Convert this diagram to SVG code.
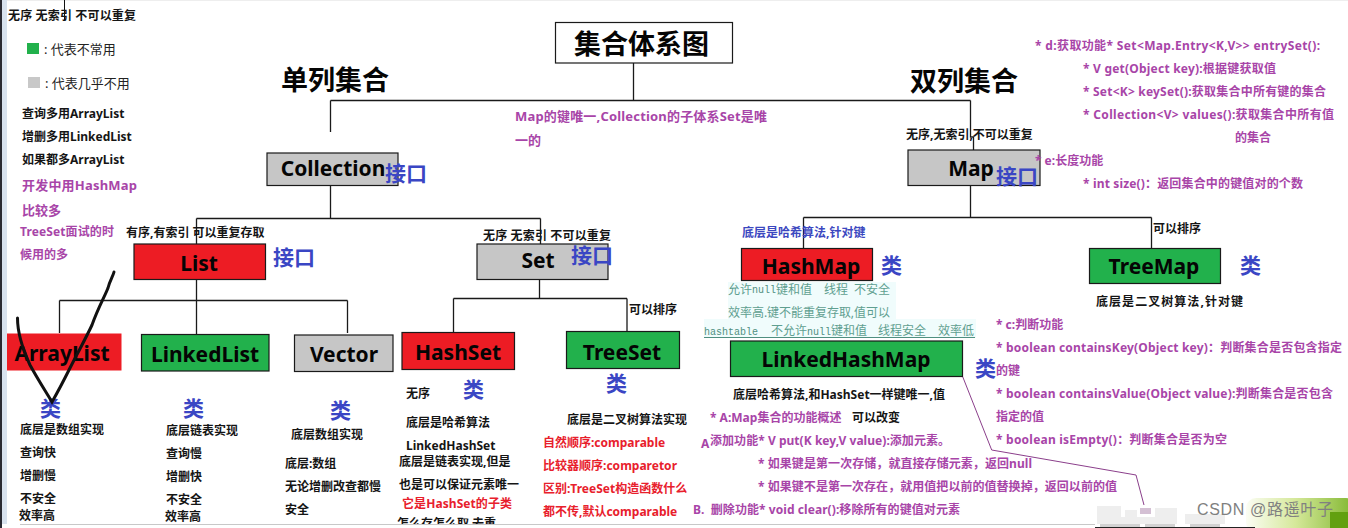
<svg xmlns="http://www.w3.org/2000/svg" width="1348" height="528" viewBox="0 0 1348 528">
<style>
text{font-family:"Noto Sans","Noto Sans CJK SC",sans-serif;font-weight:700;white-space:pre}
.k{font-size:12px;fill:#151515}
.m{font-size:13px;fill:#a845a8}
.r{font-size:12px;fill:#e8202c}
.p{font-size:12px;fill:#a845a8}
.t{font-size:12px;fill:#5f9f90;font-weight:400}
.tm{font-size:10px;fill:#4f8f80;font-weight:400;font-family:"Liberation Mono",monospace}
.b{font-size:12px;fill:#3c48c0}
.h{font-size:27px;fill:#050505}
.n{font-size:21px;fill:#050505;text-anchor:middle}
.c{font-size:21px;fill:#3a46c4}
.box{stroke:#1a1a1a;stroke-width:1.2}
.red{fill:#ed1c24}.grn{fill:#22b14c}.gry{fill:#c6c6c6}
.ln{fill:none;stroke:#1a1a1a;stroke-width:1.3}
</style>
<defs>
<linearGradient id="wm" x1="0" x2="1" y1="0" y2="0"><stop offset="0" stop-color="#fbfdf4"/><stop offset="0.45" stop-color="#d5e89a"/><stop offset="1" stop-color="#7eb52c"/></linearGradient>
</defs>
<rect width="1348" height="528" fill="#fff"/>
<rect x="0" y="0" width="1348" height="1" fill="#eeeeee"/>
<rect x="2" y="0" width="5" height="524" fill="#d8e2ee"/>
<rect x="0" y="0" width="2" height="528" fill="#2a2a32"/>
<rect x="728" y="282" width="168" height="37" fill="#f0fcfc"/>
<rect x="704" y="319" width="272" height="19" fill="#f0fcfc"/>
<g id="connectors">
<path class="ln" d="M633.5 63V100.5M330.5 100.5H970.5M330.5 100.5V132M970.5 100.5V137H973.5V150M330.5 185V218.5M196.5 218.5H540.5M196.5 218.5V244M540.5 218.5V244M196.5 280V300.5M59.5 300.5H347.5M59.5 300.5V333M196.5 300.5V334M347.5 300.5V333M539.5 280V298.5M453.5 298.5H627M453.5 298.5V332M627 298.5V331M970.5 185V217.5M803.5 217.5H1151.5M803.5 217.5V248M1151.5 217.5V248"/>
<path d="M64.500 0V21" fill="none" stroke="#111" stroke-width="1"/>
<path d="M962.700 376.700L991.700 450L1136 475L1144 505" fill="none" stroke="#8b3f8b" stroke-width="1"/>
</g>
<g id="legend">
<rect x="27" y="43" width="12" height="11" fill="#22b14c"/>
<text x="44" y="54" style="font-size:13px;font-weight:400;fill:#222">: 代表不常用</text>
<rect x="28" y="77" width="12" height="11" fill="#c8c8c8"/>
<text x="45" y="88" style="font-size:13px;font-weight:400;fill:#222">: 代表几乎不用</text>
<text class="k" x="8" y="20" textLength="128">无序 无索引 不可以重复</text>
</g>
<g id="notes-left">
<text class="k" x="22" y="118">查询多用ArrayList</text>
<text class="k" x="22" y="141">增删多用LinkedList</text>
<text class="k" x="22" y="164">如果都多ArrayList</text>
<text class="m" x="22" y="190" textLength="115">开发中用HashMap</text>
<text class="m" x="22" y="215">比较多</text>
<text class="p" x="20" y="236" textLength="94">TreeSet面试的时</text>
<text class="p" x="20" y="259">候用的多</text>
</g>
<g id="title"><rect class="box" x="555.500" y="22.500" width="177" height="40.500" fill="#fff"/><text class="h" x="574" y="54">集合体系图</text></g>
<text class="h" x="281" y="90">单列集合</text>
<text class="h" x="910" y="91">双列集合</text>
<text class="m" x="515" y="121" textLength="252">Map的键唯一,Collection的子体系Set是唯</text>
<text class="m" x="515" y="145">一的</text>
<g id="collection"><rect class="box gry" x="267" y="153" width="131" height="32.500"/><text class="n" x="333" y="176">Collection</text><text class="c" x="385" y="181">接口</text></g>
<g id="map"><rect class="box gry" x="908" y="150" width="132" height="35.500"/><text class="n" x="971" y="176">Map</text><text class="c" x="996" y="184">接口</text></g>
<text class="k" x="906" y="139">无序,无索引,不可以重复</text>
<g id="list"><rect class="box red" x="134" y="244" width="131.500" height="35.500"/><text class="n" x="199" y="271">List</text><text class="c" x="273" y="265">接口</text></g>
<text class="k" x="126" y="237">有序,有索引 可以重复存取</text>
<g id="set"><rect class="box gry" x="477" y="244" width="131" height="35.500"/><text class="n" x="538" y="268">Set</text><text class="c" x="571" y="263">接口</text></g>
<text class="k" x="483" y="240" textLength="128">无序 无索引 不可以重复</text>
<g id="arraylist"><rect class="red" x="7" y="333.500" width="114.500" height="37"/><text class="n" x="62" y="361">ArrayList</text><text class="c" x="40" y="416">类</text></g>
<path d="M17.500 318C17.500 335 24 352 30 365C37 378 46 392 52 402C60 388 66 376 70 368C78 352 86 338 92 325C98 308 104 298 108 288C110 280 113 276 114 272" fill="none" stroke="#111" stroke-width="3" stroke-linecap="round"/>
<g id="linkedlist"><rect class="box grn" x="141.500" y="334.500" width="127.500" height="36.500"/><text class="n" x="205" y="362">LinkedList</text><text class="c" x="183" y="416">类</text></g>
<g id="vector"><rect class="box gry" x="294.500" y="335" width="98.500" height="36.500"/><text class="n" x="344" y="362">Vector</text><text class="c" x="330" y="418">类</text></g>
<g id="hashset"><rect class="box red" x="402" y="332.500" width="112.500" height="37"/><text class="n" x="458" y="360">HashSet</text><text class="c" x="463" y="397">类</text></g>
<g id="treeset"><rect class="box grn" x="566.500" y="331.500" width="113" height="37"/><text class="n" x="622" y="360">TreeSet</text><text class="c" x="606" y="391">类</text></g>
<g id="hashmap"><rect class="box red" x="741.500" y="248.500" width="131" height="32"/><text class="n" x="811" y="274">HashMap</text><text class="c" x="881" y="273">类</text></g>
<g id="treemap"><rect class="box grn" x="1089.500" y="248.500" width="131" height="35"/><text class="n" x="1154" y="274">TreeMap</text><text class="c" x="1240" y="273">类</text></g>
<g id="linkedhashmap"><rect class="box grn" x="730.500" y="341" width="232" height="35.500"/><text class="n" x="846" y="367">LinkedHashMap</text><text class="c" x="975" y="376">类</text></g>
<g id="arraylist-notes">
<text class="k" x="20" y="434" textLength="84">底层是数组实现</text><text class="k" x="20" y="457">查询快</text><text class="k" x="20" y="480">增删慢</text><text class="k" x="20" y="503">不安全</text><text class="k" x="19" y="520">效率高</text>
</g>
<g id="linkedlist-notes">
<text class="k" x="166" y="435">底层链表实现</text><text class="k" x="166" y="458">查询慢</text><text class="k" x="166" y="481">增删快</text><text class="k" x="166" y="504">不安全</text><text class="k" x="165" y="521">效率高</text>
</g>
<g id="vector-notes">
<text class="k" x="291" y="439">底层数组实现</text><text class="k" x="285" y="468">底层:数组</text><text class="k" x="285" y="491">无论增删改查都慢</text><text class="k" x="285" y="514">安全</text>
</g>
<g id="hashset-notes">
<text class="k" x="406" y="398">无序</text><text class="k" x="406" y="427">底层是哈希算法</text><text class="k" x="406" y="450">LinkedHashSet</text><text class="k" x="399" y="466">底层是链表实现,但是</text><text class="k" x="399" y="489">也是可以保证元素唯一</text><text class="r" x="402" y="508" textLength="110">它是HashSet的子类</text>
<text class="k" x="397" y="528">怎么存怎么取 去重</text>
</g>
<g id="treeset-notes">
<text class="k" x="567" y="424">底层是二叉树算法实现</text><text class="r" x="543" y="447">自然顺序:comparable</text><text class="r" x="543" y="470" textLength="134">比较器顺序:comparetor</text><text class="r" x="543" y="493">区别:TreeSet构造函数什么</text><text class="r" x="543" y="516">都不传,默认comparable</text>
</g>
<text class="b" x="742" y="237">底层是哈希算法,针对键</text>
<text class="k" x="1153" y="233">可以排序</text>
<text class="k" x="629" y="314">可以排序</text>
<text class="k" x="1096" y="306" textLength="147">底层是二叉树算法,针对键</text>
<g id="hashmap-notes">
<text class="t" x="728" y="294">允许</text><text class="tm" x="752" y="293">null</text><text class="t" x="776" y="294">键和值</text><text class="t" x="824" y="294">线程</text><text class="t" x="854" y="294">不安全</text>
<text class="t" x="728" y="317" textLength="162">效率高.键不能重复存取,值可以</text>
<text class="tm" x="704" y="335">hashtable</text><text class="t" x="771" y="335">不允许</text><text class="tm" x="807" y="335">null</text><text class="t" x="831" y="335">键和值</text><text class="t" x="878" y="335">线程安全</text><text class="t" x="938" y="335">效率低</text>
<rect x="704" y="337" width="271" height="1" fill="#4f8f80"/>
</g>
<g id="linkedhashmap-notes">
<text class="k" x="733" y="399">底层哈希算法,和HashSet一样键唯一,值</text>
<text class="k" x="852" y="422">可以改变</text>
<text class="p" x="710" y="422">* A:Map集合的功能概述</text>
<text class="p" x="701" y="448">A</text>
<text class="p" x="710" y="445" textLength="240">添加功能* V put(K key,V value):添加元素。</text>
<text class="p" x="758" y="468" textLength="274">* 如果键是第一次存储，就直接存储元素，返回null</text>
<text class="p" x="758" y="491" textLength="359">* 如果键不是第一次存在，就用值把以前的值替换掉，返回以前的值</text>
<text class="p" x="693" y="514" textLength="267">B.  删除功能* void clear():移除所有的键值对元素</text>
</g>
<g id="methods-top">
<text class="p" x="1035" y="50" textLength="285">* d:获取功能* Set&lt;Map.Entry&lt;K,V&gt;&gt; entrySet():</text>
<text class="p" x="1083" y="73" textLength="193">* V get(Object key):根据键获取值</text>
<text class="p" x="1083" y="96" textLength="243">* Set&lt;K&gt; keySet():获取集合中所有键的集合</text>
<text class="p" x="1083" y="119" textLength="251">* Collection&lt;V&gt; values():获取集合中所有值</text>
<text class="p" x="1235" y="142">的集合</text>
<text class="p" x="1035" y="165">* e:长度功能</text>
<text class="p" x="1083" y="188" textLength="220">* int size()：返回集合中的键值对的个数</text>
</g>
<g id="methods-bottom">
<text class="p" x="996" y="329">* c:判断功能</text>
<text class="p" x="996" y="352" textLength="346">* boolean containsKey(Object key)：判断集合是否包含指定</text>
<text class="p" x="996" y="375">的键</text>
<text class="p" x="996" y="398" textLength="337">* boolean containsValue(Object value):判断集合是否包含</text>
<text class="p" x="996" y="421">指定的值</text>
<text class="p" x="996" y="444" textLength="231">* boolean isEmpty()：判断集合是否为空</text>
</g>
<rect x="0" y="524" width="1095" height="4" fill="#fff"/>
<rect x="0" y="524" width="2" height="4" fill="#2a2a32"/>
<rect x="20" y="524" width="1075" height="1" fill="#c8c8c8"/>
<g id="watermark">
<rect x="1246" y="498" width="110" height="34" rx="10" fill="url(#wm)"/>
<g fill="#eeeeee">
<rect x="1097" y="506" width="24" height="18"/><rect x="1125" y="510" width="12" height="14"/><rect x="1155" y="508" width="22" height="16"/><rect x="1185" y="514" width="40" height="10"/><rect x="1107" y="517" width="50" height="7"/>
</g>
<rect x="1140" y="508" width="11" height="6" fill="#d4c0d4"/>
<g fill="#d2d2d2">
<rect x="1100" y="524" width="40" height="3"/><rect x="1145" y="524" width="30" height="3"/><rect x="1190" y="524" width="30" height="3"/>
</g>
<rect x="1095" y="527" width="160" height="1" fill="#222"/>
<rect x="1330" y="512" width="18" height="16" fill="#62a010"/>
<text x="1197" y="515" textLength="136" style="font-family:'Liberation Sans','Noto Sans CJK SC',sans-serif;font-size:16px;font-weight:400;fill:#808080">CSDN @路遥叶子</text>
</g>
</svg>
